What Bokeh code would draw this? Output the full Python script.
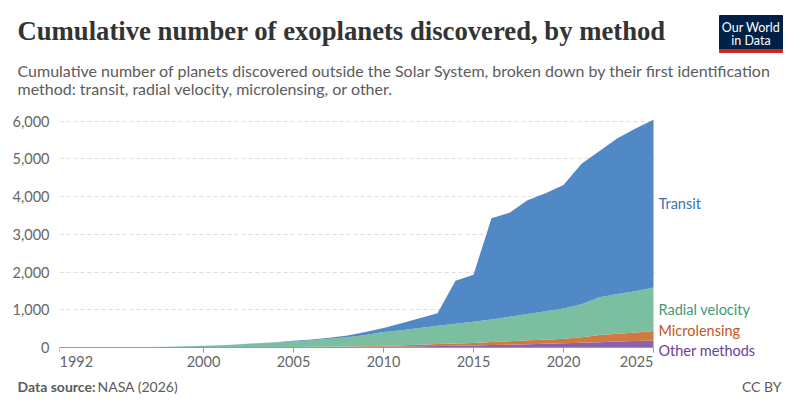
from bokeh.plotting import figure
from bokeh.layouts import column
from bokeh.models import ColumnDataSource, FixedTicker, NumeralTickFormatter, Range1d, Grid, Plot
from bokeh.core.properties import value
from bokeh.embed import file_html
from bokeh.resources import INLINE

years = list(range(1992, 2026))
other = [2, 2, 3, 3, 3, 3, 3, 3, 3, 3, 4, 5, 7, 9, 11, 13, 17, 20, 24, 28, 35, 42, 48, 55,
         64, 74, 86, 98, 112, 125, 142, 158, 172, 185]
microlensing = [0, 0, 0, 0, 0, 0, 0, 0, 0, 0, 0, 0, 1, 3, 6, 8, 12, 15, 22, 33, 40, 50, 57, 65,
                80, 95, 105, 105, 120, 145, 190, 205, 228, 255]
radial_velocity = [0, 0, 0, 1, 7, 8, 14, 27, 43, 55, 82, 105, 127, 148, 173, 209, 246, 295, 364,
                   399, 445, 488, 525, 560, 601, 644, 699, 757, 803, 875, 998, 1057, 1095, 1150]
transit = [0, 0, 0, 0, 0, 0, 0, 0, 0, 0, 1, 2, 6, 16, 20, 26, 43, 84, 110, 180, 255, 330, 1142,
           1250, 2685, 2758, 3017, 3130, 3277, 3731, 3882, 4127, 4316, 4450]

series = ["other", "microlensing", "radial_velocity", "transit"]
fills = ["#8b63ad", "#d07a42", "#7bbfa0", "#5189c7"]
label_text = ["Other methods", "Microlensing", "Radial velocity", "Transit"]
label_colors = ["#6b3d99", "#c4571a", "#3f9a77", "#3b70b7"]
label_px = [350, 330, 309, 203]  # page y of label centres
x_ticks = [1992, 2000, 2005, 2010, 2015, 2020, 2025]
y_ticks = [0, 1000, 2000, 3000, 4000, 5000, 6000]

title = "Cumulative number of exoplanets discovered, by method"
subtitle1 = "Cumulative number of planets discovered outside the Solar System, broken down by their first identification"
subtitle2 = "method: transit, radial velocity, microlensing, or other."

FONT = "Lato"
W = 784
HEAD = 100        # header height (page rows 0..100)
MAIN_END = 372    # main chart covers page rows 100..372
H = 402
FL, FT, Y0 = 59, 117, 347   # frame left, frame top, row of value 0 on the page
PX_PER_YEAR = 18
Y_END = 6100
HAS_FRAME_ALIGN = "frame_align" in Plot.properties()


def blank(h, y0):
    f = figure(width=W, height=h, output_backend="svg", toolbar_location=None,
               x_range=Range1d(0, W), y_range=Range1d(y0 + h, y0),
               x_axis_type=None, y_axis_type=None, min_border=0)
    f.outline_line_color = None
    f.grid.visible = False
    if HAS_FRAME_ALIGN:
        f.frame_align = False
    return f


# ---------- header ----------
head = blank(HEAD, 0)
head.text(x=[17], y=[30], text=[title], text_font=value("Liberation Serif"),
          text_font_style="bold", text_font_size="26.7px", text_color="#333333",
          text_baseline="middle")
head.text(x=[17, 17], y=[70, 88], text=[subtitle1, subtitle2], text_font=value(FONT),
          text_font_size="16px", text_color="#5b5b5b", text_baseline="middle")
head.quad(left=[719], right=[782], top=[15], bottom=[49], color="#002147")
head.quad(left=[719], right=[782], top=[49], bottom=[52], color="#ce261e")
head.text(x=[750.5, 750.5], y=[27, 39.5], text=["Our World", "in Data"], text_font=value(FONT),
          text_font_size="12.5px", text_color="white", text_align="center",
          text_baseline="middle")

# ---------- main chart ----------
src = ColumnDataSource(dict(year=years, other=other, microlensing=microlensing,
                            radial_velocity=radial_velocity, transit=transit))
px_per_unit = (Y0 - FT) / Y_END
y_start = -(MAIN_END - Y0) / px_per_unit
x_end = 1992 + (W - FL) / PX_PER_YEAR
p = figure(width=W, height=MAIN_END - HEAD, output_backend="svg", toolbar_location=None,
           x_range=Range1d(1992, x_end), y_range=Range1d(y_start, Y_END),
           min_border_left=FL, min_border_right=0, min_border_top=FT - HEAD,
           min_border_bottom=0)
p.outline_line_color = None
if HAS_FRAME_ALIGN:
    p.frame_align = False

p.varea_stack(stackers=series, x="year", color=fills, source=src)

AX_COLOR = "#666666"
AX_SIZE = "14.5px"
p.xaxis.fixed_location = 0
p.xaxis.ticker = FixedTicker(ticks=x_ticks)
p.xaxis.bounds = (years[0], years[-1])
p.xaxis.axis_line_color = "#9a9a9a"
p.xaxis.major_tick_line_color = "#9a9a9a"
p.xaxis.major_tick_in = 0
p.xaxis.major_tick_out = 5
p.xaxis.minor_tick_line_color = None
p.xaxis.major_label_text_font = FONT
p.xaxis.major_label_text_font_size = AX_SIZE
p.xaxis.major_label_text_color = AX_COLOR
p.xaxis.major_label_standoff = 3
# first and last year labels are aligned to the inside of the axis (drawn below)
p.xaxis.major_label_overrides = {x_ticks[0]: "", x_ticks[-1]: ""}
p.text(x=[x_ticks[0], x_ticks[-1]], y=[0, 0], text=[str(x_ticks[0]), str(x_ticks[-1])],
       text_align=["left", "right"], y_offset=8, text_baseline="top",
       text_font=value(FONT), text_font_size=AX_SIZE, text_color=AX_COLOR)

p.yaxis.ticker = FixedTicker(ticks=y_ticks)
p.yaxis.formatter = NumeralTickFormatter(format="0,0")
p.yaxis.axis_line_color = None
p.yaxis.major_tick_line_color = None
p.yaxis.minor_tick_line_color = None
p.yaxis.major_label_text_font = FONT
p.yaxis.major_label_text_font_size = AX_SIZE
p.yaxis.major_label_text_color = AX_COLOR
p.yaxis.major_label_standoff = 4

p.xgrid.grid_line_color = None
grid_ticks = y_ticks[1:]
p.ygrid.ticker = FixedTicker(ticks=grid_ticks)
if "cross_bounds" in Grid.properties():
    p.ygrid.cross_bounds = (years[0], years[-1] + 0.1)
    p.ygrid.grid_line_color = "#dddddd"
    p.ygrid.grid_line_dash = "4 3"
else:
    p.ygrid.grid_line_color = None
    p.segment(x0=[years[0]] * len(grid_ticks), x1=[years[-1] + 0.1] * len(grid_ticks),
              y0=grid_ticks, y1=grid_ticks, line_color="#dddddd", line_dash="4 3",
              level="underlay")

# end labels, placed at the page rows of the reference
label_vals = [(Y0 - yy) / px_per_unit for yy in label_px]
p.text(x=[years[-1]] * 4, y=label_vals, text=label_text, text_color=label_colors,
       x_offset=5, text_font=value(FONT), text_font_size="14.5px", text_baseline="middle")

# ---------- footer ----------
foot = blank(H - MAIN_END, MAIN_END)
foot.text(x=[17], y=[386], text=["Data source:"], text_font=value(FONT), text_font_style="bold",
          text_font_size="14px", text_color="#5b5b5b", text_baseline="middle")
foot.text(x=[97], y=[386], text=["NASA (2026)"], text_font=value(FONT),
          text_font_size="14px", text_color="#5b5b5b", text_baseline="middle")
foot.text(x=[781], y=[386], text=["CC BY"], text_font=value(FONT), text_align="right",
          text_font_size="14px", text_color="#5b5b5b", text_baseline="middle")

layout = column(head, p, foot, spacing=0)
open("out.html", "w").write(file_html(layout, INLINE))
